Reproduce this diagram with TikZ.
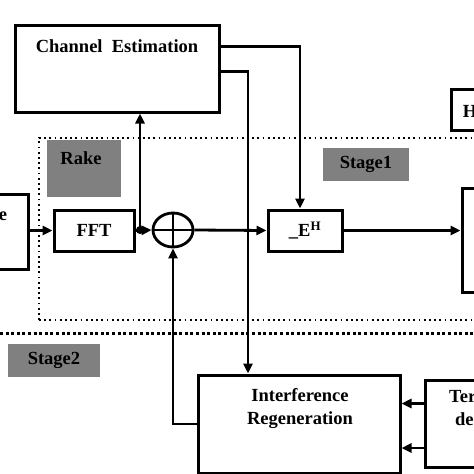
\documentclass[tikz,border=0pt]{standalone}
\usepackage{fontspec}
\setmainfont{Liberation Serif}
\usetikzlibrary{positioning,arrows.meta,shapes.geometric}
\definecolor{stagegray}{HTML}{808080}
\newcommand{\boxfont}{\fontsize{18.5}{23}\selectfont\bfseries}
\tikzset{
  block/.style={draw, line width=3pt, fill=white, font=\boxfont},
  tag/.style={fill=stagegray, font=\boxfont},
  label_text/.style={font=\boxfont},
  flow/.style={line width=2.8pt, -{Triangle[length=10pt,width=9pt]}},
  wire/.style={line width=2.8pt},
  stage_frame/.style={line width=1.8pt, dash pattern=on 1.8pt off 3.4pt},
  stage_split/.style={line width=3pt, dash pattern=on 3pt off 2.6pt},
}

\begin{document}
\begin{tikzpicture}[x=1pt, y=-1pt,
    every node/.style={inner sep=0pt, align=center}]
  \useasboundingbox (0,0) rectangle (474,474);
  \clip (0,0) rectangle (474,474);
  % stage frames
  \draw[stage_frame] (39,320) |- (500,138);
  \draw[stage_frame] (39,320) -- (500,320);
  \draw[stage_split] (0,333) -- (480,333);
  \node (rake) [tag, minimum width=74pt, minimum height=57pt] at (84,168.5) {};
  \node (raketext) [label_text] at (81,158) {Rake};
  \node (stage1) [tag, minimum width=86pt, minimum height=33pt] at (366,164.5) {Stage1};
  \node (stage2) [tag, minimum width=92pt, minimum height=33pt] at (54,360.5) {Stage2};
  % blocks
  \node (ce) [block, minimum width=204pt, minimum height=87pt] at (117,68.5) {};
  \node (cetext) [label_text] at (117,46) {Channel\ \ Estimation};
  \node (src) [block, minimum width=60pt, minimum height=75pt] at (-2,231.5) {};
  \node (srctext) [label_text] at (3,216) {e};
  \node (fft) [block, minimum width=80pt, minimum height=41pt] at (94,230.5) {FFT};
  \node (sum) [draw, ellipse, line width=2.8pt, minimum width=40pt, minimum height=34pt] at (173,230) {};
  \draw[wire] (sum.north) -- (sum.south) (sum.west) -- (sum.east);
  \node (eh) [block, minimum width=74pt, minimum height=41pt] at (305,230.5) {\_E\textsuperscript{H}};
  \node (hbox) [block, minimum width=60pt, minimum height=41pt] at (481,109.5) {};
  \node (htext) [label_text] at (470,111) {H};
  \node (rbox) [block, minimum width=60pt, minimum height=104pt] at (492,240) {};
  \node (ir) [block, minimum width=202pt, minimum height=98pt] at (299,424) {};
  \node (irtext) [label_text] at (300,409) {Interference\\Regeneration};
  \node (te) [block, minimum width=70pt, minimum height=87pt] at (460,423.5) {};
  \node (tetext) [label_text, anchor=west, align=left] at (449,408) {Ter\\\hspace*{6pt}de};
  % connectors
  \coordinate (tap) at (140,230);
  \draw[flow] (src.east |- fft.west) -- (fft.west);
  \draw[flow] (fft.east) -- (sum.west);
  \fill (tap) circle (4pt);
  \draw[flow] (tap) -- (tap |- ce.south);
  \draw[flow] (sum.east) -- (eh.west);
  \draw[flow] ([yshift=-23pt]ce.north east) -| ([xshift=-5pt]eh.north);
  \draw[flow] ([yshift=-48pt]ce.north east) -| ([xshift=-51pt]ir.north);
  \draw[flow] (eh.east) -- (eh.east -| rbox.west);
  \draw[flow] (ir.west) -| (sum.south);
  \draw[flow] ([yshift=20pt]te.west) -- ([yshift=20pt]te.west -| ir.east);
  \draw[flow] ([yshift=-24.5pt]te.west) -- ([yshift=-24.5pt]te.west -| ir.east);
\end{tikzpicture}
\end{document}
